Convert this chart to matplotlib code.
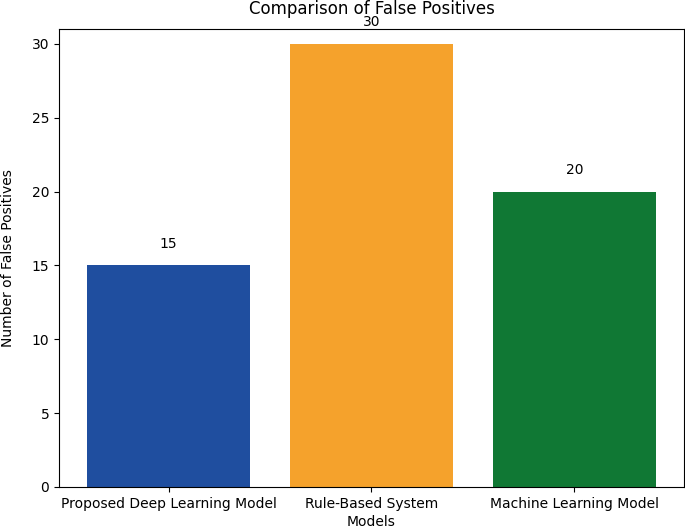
import matplotlib
matplotlib.use('Agg')
import matplotlib.pyplot as plt

models = ['Proposed Deep Learning Model', 'Rule-Based System', 'Machine Learning Model']
false_positives = [15, 30, 20]
colors = ['#1f4e9f', '#f5a22c', '#107834']

fig = plt.figure(figsize=(6.85, 5.28), dpi=100)
ax = fig.add_axes([59 / 685, 1 - 487 / 528, (684 - 59) / 685, (487 - 29) / 528])

bars = ax.bar(models, false_positives, color=colors, width=0.8)
for bar, v in zip(bars, false_positives):
    ax.text(bar.get_x() + bar.get_width() / 2, v + 1, str(v),
            ha='center', va='bottom', fontsize=10)

ax.set_ylim(0, 31)
ax.set_title('Comparison of False Positives', pad=11)
ax.set_xlabel('Models', labelpad=3)
ax.set_ylabel('Number of False Positives')
ax.yaxis.set_label_coords(-44 / 625, 0.5)

fig.savefig('out.png', dpi=100)
